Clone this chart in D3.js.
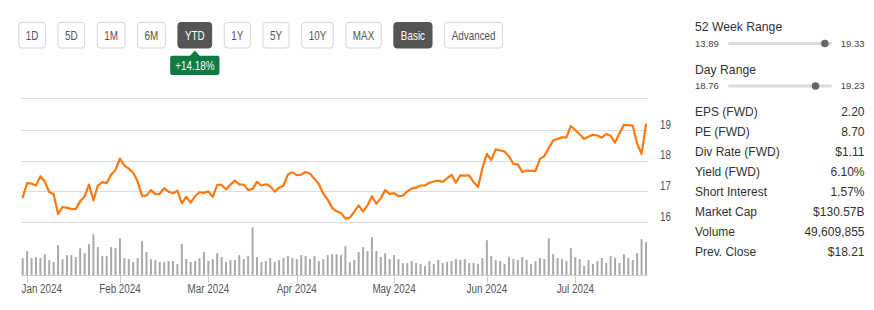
<!DOCTYPE html>
<html><head><meta charset="utf-8">
<script src="https://cdn.jsdelivr.net/npm/d3@7"></script>
<style>
body{margin:0;background:#fff;}
svg{display:block;font-family:"Liberation Sans",Arial,sans-serif;}
</style></head><body>
<svg id="c" width="874" height="310"></svg>
<script>
// ---------- data ----------
const prices = [
 16.80,17.27,17.25,17.19,17.49,17.32,16.98,16.91,16.26,16.49,16.46,16.43,16.42,16.68,16.83,17.22,16.70,17.19,17.30,17.27,
 17.54,17.70,18.07,17.84,17.74,17.61,17.32,16.85,16.86,17.04,16.91,16.92,17.10,16.99,16.94,17.02,
 16.61,16.82,16.63,16.84,16.97,16.95,17.00,16.82,17.21,17.21,17.06,17.22,17.35,17.23,17.22,17.04,17.08,17.31,17.19,17.23,
 17.17,16.99,17.12,17.19,17.55,17.62,17.53,17.54,17.63,17.57,17.41,17.24,16.92,16.73,16.46,16.35,16.29,
 16.11,16.14,16.33,16.54,16.34,16.54,16.84,16.60,16.77,17.04,16.92,16.94,16.84,16.86,17.00,17.09,17.12,17.19,17.19,17.28,
 17.32,17.35,17.31,17.42,17.54,17.28,17.52,17.51,17.52,17.30,17.14,17.76,18.22,18.02,18.37,18.33,
 18.30,18.14,17.90,17.88,17.63,17.68,17.67,17.67,18.06,18.15,18.41,18.66,18.71,18.76,18.76,19.13,19.00,18.86,18.71,18.79,
 18.84,18.82,18.75,18.87,18.81,18.59,18.89,19.17,19.16,19.14,18.55,18.22,19.18
];
const volumes = [ // millions of shares
 25.5,36,25.5,27,25.5,31.5,22.5,19.5,45,24,30,30,27,40.5,33,46.5,61.5,42,28.5,28.5,42,40.5,55.5,25.5,24,19.5,25.5,51,34.5,24,22.5,19.5,19.5,21,21,16.5,
 46.5,24,19.5,21,25.5,34.5,21,24,33,27,19.5,22.5,22.5,30,24,28.5,72,27,19.5,21,25.5,19.5,22.5,25.5,28.5,25.5,24,30,28.5,24,28.5,21,24,30,31.5,31.5,
 30,43.5,19.5,22.5,34.5,42,36,57,36,27,33,24,30,24,18,18,21,18,16.5,13.5,21,16.5,22.5,18,19.5,21,24,22.5,24,18,18,16.5,25.5,52.5,28.5,22.5,21,
 16.5,27,24,22.5,27,22.5,16.5,21,25.5,24,55.5,31.5,25.5,24,21,40.5,27,24,13.5,22.5,16.5,21,25.5,18,28.5,25.5,18,31.5,25.5,22.5,33,54,49.5
];
const monthLabels = ["Jan 2024","Feb 2024","Mar 2024","Apr 2024","May 2024","Jun 2024","Jul 2024"];
const monthIndex  = [1,22,42,62,84,105,125];
const priceTicks  = [16,17,18,19];
const periodButtons = ["1D","5D","1M","6M","YTD","1Y","5Y","10Y","MAX"];
const modeButtons   = ["Basic","Advanced"];
const activeButtons = ["YTD","Basic"];
const ytdChange = "+14.18%";
const week52Range = [13.89, 19.33];
const dayRange    = [18.76, 19.23];
const currentPrice = 19.17;
const statLabels = ["EPS (FWD)","PE (FWD)","Div Rate (FWD)","Yield (FWD)","Short Interest","Market Cap","Volume","Prev. Close"];
const statValues = ["2.20","8.70","$1.11","6.10%","1.57%","$130.57B","49,609,855","$18.21"];

// ---------- helpers ----------
const svg = d3.select("#c");
function narrow(sel, f){ sel.each(function(){ const w=this.getComputedTextLength(); d3.select(this).attr("textLength", w*f).attr("lengthAdjust","spacingAndGlyphs"); }); }

// ---------- scales ----------
const plotL = 21.5, plotR = 647.5, plotTop = 98.5, volBase = 275;
const x  = d3.scaleLinear().domain([0, prices.length-1]).range([22.7, 646]);
const y  = d3.scaleLinear().domain([16,19]).range([222,130]);
const yv = d3.scaleLinear().domain([0,80]).range([volBase,222]);

// ---------- grid ----------
const grid = svg.append("g").attr("stroke","#dcdcdc").attr("stroke-width",1);
grid.append("line").attr("x1",plotL).attr("x2",plotR).attr("y1",plotTop).attr("y2",plotTop);
grid.selectAll("line.g").data(priceTicks).join("line").attr("class","g")
  .attr("x1",plotL).attr("x2",plotR)
  .attr("y1",d=>Math.round(y(d))+0.5).attr("y2",d=>Math.round(y(d))+0.5);

svg.append("g").selectAll("text").data(priceTicks).join("text")
  .attr("x",660).attr("y",d=>y(d)-5.5).attr("dy","0.35em")
  .attr("font-size",12).attr("fill","#555").text(d=>d)
  .call(narrow,0.82);

// ---------- volume ----------
svg.append("g").attr("fill","#a9a9a9").selectAll("rect").data(volumes).join("rect")
  .attr("x",(d,i)=>x(i)-1).attr("width",2)
  .attr("y",d=>yv(d)).attr("height",d=>volBase-yv(d));
svg.append("line").attr("x1",plotL).attr("x2",plotR).attr("y1",volBase+0.5).attr("y2",volBase+0.5)
  .attr("stroke","#cfcfcf");

// x axis
const xa = svg.append("g");
xa.selectAll("line").data(monthIndex).join("line")
  .attr("x1",d=>Math.round(x(d))+0.5).attr("x2",d=>Math.round(x(d))+0.5)
  .attr("y1",volBase).attr("y2",volBase+8).attr("stroke","#cfcfcf");
xa.selectAll("text").data(monthIndex).join("text")
  .attr("x",d=>x(d)).attr("y",289).attr("dy","0.35em").attr("text-anchor","middle")
  .attr("font-size",12).attr("fill","#555").text((d,i)=>monthLabels[i])
  .call(narrow,0.82)
  .each(function(){ const b=this.getBBox(); if(b.x<plotL){ d3.select(this).attr("x",+d3.select(this).attr("x")+(plotL-b.x)); } });

// ---------- price line ----------
svg.append("path").datum(prices)
  .attr("fill","none").attr("stroke","#fb7910").attr("stroke-width",2.2)
  .attr("stroke-linejoin","round").attr("stroke-linecap","round")
  .attr("d", d3.line().x((d,i)=>x(i)).y(d=>y(d)));

// ---------- buttons ----------
const btns = periodButtons.concat(modeButtons);
const bg = svg.append("g");
let bx = 18.3; const btnY = 22, btnH = 26.5, gap = 11.6, btnFont = 13, btnSquash = 0.76;
const btnCenters = {};
btns.forEach(lbl=>{
  const active = activeButtons.includes(lbl);
  const g = bg.append("g");
  const r = g.append("rect");
  const t = g.append("text").attr("font-size",btnFont).attr("fill",active?"#fff":"#555")
    .attr("text-anchor","middle").attr("dy","0.35em").text(lbl);
  const w = t.node().getComputedTextLength()*btnSquash;
  t.attr("textLength",w).attr("lengthAdjust","spacingAndGlyphs");
  const bw = w + 15;
  r.attr("x",bx+0.5).attr("y",btnY+0.5).attr("width",bw-1).attr("height",btnH-1).attr("rx",3)
   .attr("fill",active?"#555":"#fff").attr("stroke",active?"#555":"#d6d6d6");
  t.attr("x",bx+bw/2).attr("y",btnY+btnH/2);
  btnCenters[lbl] = bx+bw/2;
  bx += bw + gap;
});

// badge
const bcx = btnCenters["YTD"];
const badge = svg.append("g");
const bt = badge.append("text").attr("font-size",btnFont).attr("fill","#fff").attr("text-anchor","middle")
  .attr("dy","0.35em").attr("x",bcx).attr("y",65.5).text(ytdChange);
const btw = bt.node().getComputedTextLength()*btnSquash;
bt.attr("textLength",btw).attr("lengthAdjust","spacingAndGlyphs");
badge.insert("rect","text").attr("x",bcx-btw/2-5).attr("y",55.7).attr("width",btw+10).attr("height",19.3)
  .attr("rx",2).attr("fill","#0f7b41");
badge.insert("path","text").attr("d",`M${bcx-5},56 L${bcx},50.5 L${bcx+5},56 Z`).attr("fill","#0f7b41");

// ---------- right panel ----------
const rp = svg.append("g");
const lx = 695, rx = 864.5, trackL = 728.3, trackR = 831.7;
function rangeRow(title, rng, ty){
  rp.append("text").attr("x",lx).attr("y",ty).attr("dy","0.35em").attr("font-size",12.2).attr("fill","#333").text(title);
  const ry = ty+16.5;
  rp.append("text").attr("x",lx).attr("y",ry).attr("dy","0.35em").attr("font-size",9.5).attr("fill","#444").text(rng[0].toFixed(2));
  rp.append("text").attr("x",rx).attr("y",ry).attr("dy","0.35em").attr("text-anchor","end").attr("font-size",9.5).attr("fill","#444").text(rng[1].toFixed(2));
  rp.append("rect").attr("x",trackL).attr("y",ry-1.5).attr("width",trackR-trackL).attr("height",3).attr("fill","#dadada");
  const s = d3.scaleLinear().domain(rng).range([trackL+4, trackR-4]).clamp(true);
  rp.append("circle").attr("cx",s(currentPrice)).attr("cy",ry).attr("r",3.8).attr("fill","#666");
}
rangeRow("52 Week Range", week52Range, 27);
rangeRow("Day Range", dayRange, 69.5);
rp.selectAll("text.l").data(statLabels).join("text").attr("class","l")
  .attr("x",lx).attr("y",(d,i)=>111.5+i*20).attr("dy","0.35em").attr("font-size",12).attr("fill","#333").text(d=>d);
rp.selectAll("text.v").data(statValues).join("text").attr("class","v")
  .attr("x",rx).attr("y",(d,i)=>111.5+i*20).attr("dy","0.35em").attr("text-anchor","end")
  .attr("font-size",12).attr("fill","#333").text(d=>d);
</script>
</body></html>
